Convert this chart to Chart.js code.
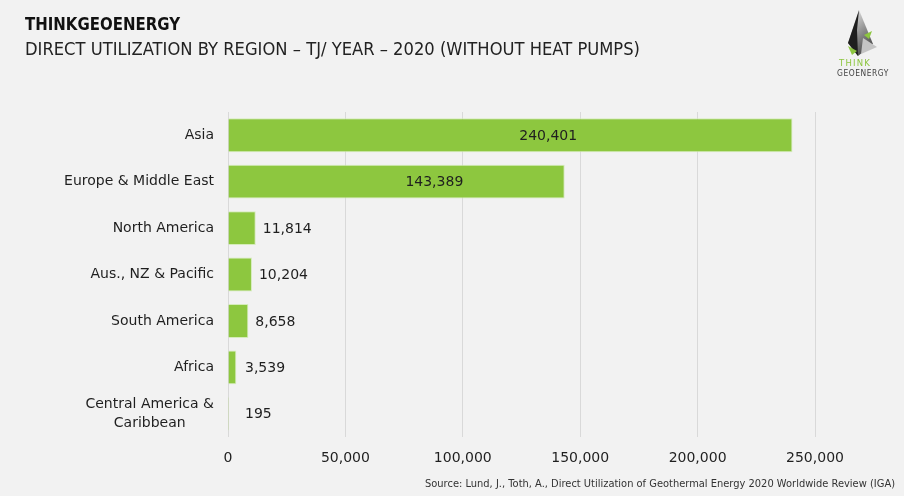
<!DOCTYPE html>
<html>
<head>
<meta charset="utf-8">
<script src="https://cdn.jsdelivr.net/npm/chart.js@4.4.0/dist/chart.umd.min.js"></script>
<style>
    html, body { margin: 0; padding: 0; background: #f2f2f2; }
    #wrap { width: 904px; height: 496px; }
</style>
</head>
<body>
<div id="wrap"><canvas id="regionChart" width="904" height="496"></canvas></div>
<script>
const regions = ["Asia", "Europe & Middle East", "North America", "Aus., NZ & Pacific",
    "South America", "Africa", ["Central America &", "Caribbean"]];
const tjPerYear = [240401, 143389, 11814, 10204, 8658, 3539, 195];
const xTicks = [0, 50000, 100000, 150000, 200000, 250000];

const FONT = "'DejaVu Sans', sans-serif";
const TEXT = "#1f1f1f";
const GREEN = "#8dc73f";

function fmt(v) {
    return v.toLocaleString('en-US');
}

// titles, logo and source line
const decoPlugin = {
    id: 'deco',
    afterDraw(chart) {
        const ctx = chart.ctx;
        ctx.save();
        ctx.fillStyle = "#111";
        ctx.textBaseline = "alphabetic";
        ctx.textAlign = "left";
        ctx.font = "bold 17px " + FONT;
        ctx.fillText("THINKGEOENERGY", 25, 30, 155);
        ctx.fillStyle = "#222";
        ctx.font = "17px " + FONT;
        ctx.fillText("DIRECT UTILIZATION BY REGION – TJ/ YEAR – 2020 (WITHOUT HEAT PUMPS)", 25, 55, 615);

        ctx.fillStyle = "#333";
        ctx.font = "10px " + FONT;
        ctx.textAlign = "right";
        ctx.fillText("Source: Lund, J., Toth, A., Direct Utilization of Geothermal Energy 2020 Worldwide Review (IGA)", 895, 487, 470);

        // logo
        let g = ctx.createLinearGradient(845, 15, 878, 52);
        g.addColorStop(0, "#ededed");
        g.addColorStop(0.5, "#8a8a8a");
        g.addColorStop(1, "#2b2b2b");
        ctx.fillStyle = g;
        ctx.beginPath();
        ctx.moveTo(859, 10); ctx.lineTo(873, 44); ctx.lineTo(858, 56); ctx.lineTo(848, 43);
        ctx.closePath(); ctx.fill();
        ctx.fillStyle = "#1e1e1e";
        ctx.beginPath();
        ctx.moveTo(859, 10); ctx.lineTo(848, 43); ctx.lineTo(858, 56); ctx.lineTo(857, 30);
        ctx.closePath(); ctx.fill();
        ctx.fillStyle = "#c4c4c4";
        ctx.beginPath();
        ctx.moveTo(863, 38); ctx.lineTo(877, 47); ctx.lineTo(861, 54);
        ctx.closePath(); ctx.fill();
        ctx.fillStyle = "#8dc63f";
        ctx.beginPath();
        ctx.moveTo(864, 35); ctx.lineTo(872, 31); ctx.lineTo(869, 39);
        ctx.closePath(); ctx.fill();
        ctx.beginPath();
        ctx.moveTo(848, 46); ctx.lineTo(857, 51); ctx.lineTo(852, 55);
        ctx.closePath(); ctx.fill();

        ctx.textAlign = "left";
        ctx.font = "8.5px " + FONT;
        ctx.fillStyle = "#8dc63f";
        ctx.letterSpacing = "1.2px";
        ctx.fillText("THINK", 839, 66);
        ctx.fillStyle = "#444";
        ctx.letterSpacing = "0.6px";
        ctx.fillText("GEOENERGY", 837, 76, 52);
        ctx.restore();
    }
};

// category labels (multi-line ones centred on their widest line) and value labels
const labelPlugin = {
    id: 'labels',
    afterDatasetsDraw(chart) {
        const ctx = chart.ctx;
        const yScale = chart.scales.y;
        const xScale = chart.scales.x;
        const meta = chart.getDatasetMeta(0);
        ctx.save();
        ctx.fillStyle = TEXT;
        ctx.font = "14px " + FONT;
        ctx.textBaseline = "middle";
        const right = chart.chartArea.left - 14;
        regions.forEach(function (lab, i) {
            const y = yScale.getPixelForValue(i);
            if (Array.isArray(lab)) {
                let w = Math.max.apply(null, lab.map(s => ctx.measureText(s).width));
                ctx.textAlign = "center";
                lab.forEach(function (line, k) {
                    ctx.fillText(line, right - w / 2, y + (k - (lab.length - 1) / 2) * 19);
                });
            } else {
                ctx.textAlign = "right";
                ctx.fillText(lab, right, y);
            }
        });

        ctx.font = "14px " + FONT;
        meta.data.forEach(function (bar, i) {
            const v = tjPerYear[i];
            const zero = xScale.getPixelForValue(0);
            if (v > 100000) {
                ctx.textAlign = "center";
                ctx.fillText(fmt(v), (zero + bar.x) / 2 + 38, bar.y + 1);
            } else {
                ctx.textAlign = "left";
                ctx.fillText(fmt(v), Math.max(bar.x + 7, zero + 17), bar.y + 1);
            }
        });
        ctx.restore();
    }
};

new Chart(document.getElementById('regionChart'), {
    type: 'bar',
    data: {
        labels: regions,
        datasets: [{
            data: tjPerYear,
            backgroundColor: GREEN,
            borderColor: "rgba(210, 235, 180, 0.9)",
            borderWidth: 1,
            minBarLength: 1,
            barPercentage: 0.73,
            categoryPercentage: 1
        }]
    },
    options: {
        indexAxis: 'y',
        responsive: false,
        animation: false,
        devicePixelRatio: 1,
        layout: { padding: { top: 112, right: 89, left: 0, bottom: 0 } },
        plugins: {
            legend: { display: false },
            tooltip: { enabled: false }
        },
        scales: {
            x: {
                min: 0,
                max: 250000,
                afterBuildTicks: function (axis) {
                    axis.ticks = xTicks.map(v => ({ value: v }));
                },
                afterFit: function (axis) { axis.height = 59; },
                border: { display: false },
                grid: { color: "#d9d9d9", drawTicks: false },
                ticks: {
                    padding: 13,
                    color: TEXT,
                    font: { family: FONT, size: 14 },
                    maxRotation: 0,
                    callback: function (v) { return fmt(v); }
                }
            },
            y: {
                afterFit: function (axis) { axis.width = 228; },
                border: { display: false },
                grid: { display: false },
                ticks: { display: false }
            }
        }
    },
    plugins: [decoPlugin, labelPlugin]
});
</script>
</body>
</html>
